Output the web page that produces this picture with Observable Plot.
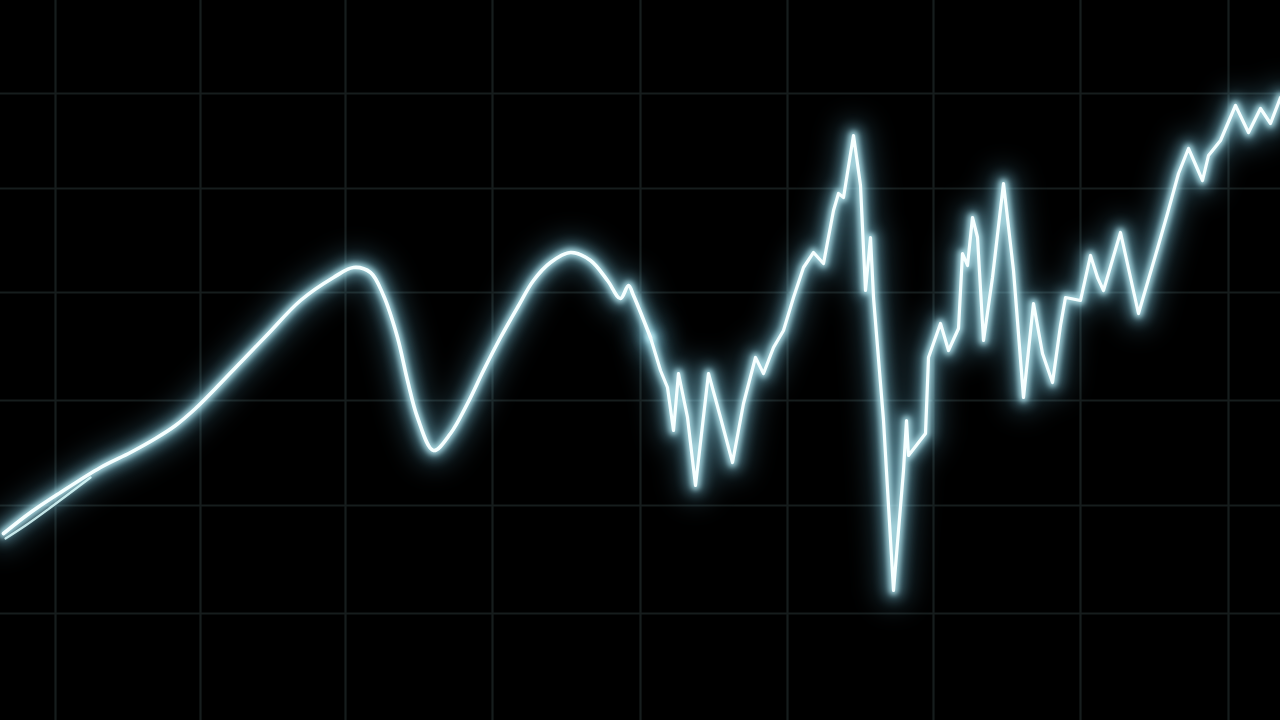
<!DOCTYPE html>
<html>
<head>
<meta charset="utf-8">
<script src="https://cdn.jsdelivr.net/npm/d3@7"></script>
<script src="https://cdn.jsdelivr.net/npm/@observablehq/plot@0.6"></script>
<style>
  html, body { margin: 0; padding: 0; background: #000; overflow: hidden; }
  #chart svg { display: block; }
</style>
</head>
<body>
<div id="chart"></div>
<script>
// Smooth early section of the trace
const smoothTime = [3, 30, 60, 100, 130, 155, 175, 195, 215, 240, 267, 300, 333, 353, 370, 383, 397, 407, 417, 433, 450, 467, 483, 500, 517, 533, 550, 570, 590, 607, 620, 628, 633, 650];
const smoothLevel = [187, 208, 228, 253, 268, 282, 295, 312, 332, 358, 386, 420, 443, 453, 448, 425, 383, 340, 303, 270, 287, 317, 350, 383, 413, 440, 458, 468, 460, 440, 422, 435, 425, 383];
// Jagged later section of the trace
const jagTime = [650, 660, 667, 673, 678, 687, 695, 708, 720, 732, 743, 755, 763, 773, 783, 793, 803, 813, 823, 833, 838, 843, 853, 860, 865, 870, 873, 883, 893, 903, 906, 908, 925, 928, 940, 948, 958, 962, 967, 972, 977, 983, 992, 1003, 1013, 1023, 1033, 1042, 1052, 1060, 1065, 1080, 1090, 1097, 1103, 1120, 1138, 1157, 1167, 1178, 1188, 1202, 1208, 1220, 1235, 1248, 1260, 1270, 1280];
const jagLevel = [383, 350, 333, 290, 347, 303, 235, 347, 303, 258, 317, 363, 347, 373, 390, 423, 453, 468, 457, 510, 527, 523, 585, 535, 430, 483, 423, 300, 130, 250, 300, 265, 287, 363, 397, 370, 392, 467, 455, 503, 483, 380, 443, 537, 450, 323, 417, 367, 338, 395, 423, 420, 465, 443, 430, 488, 407, 472, 507, 547, 572, 540, 565, 580, 615, 588, 612, 597, 623];
// Faint doubled trail at the start
const trailTime = [5, 25, 50, 90];
const trailLevel = [182, 195, 213, 243];
// Grid tick values
const xTicks = [55, 200, 345, 492, 640, 787, 933, 1080, 1228];
const yTicks = [627, 532, 428, 320, 215, 107];

const smooth = smoothTime.map((t, i) => ({t, v: smoothLevel[i]}));
const jag = jagTime.map((t, i) => ({t, v: jagLevel[i]}));
const trail = trailTime.map((t, i) => ({t, v: trailLevel[i]}));

const glow = [
  {w: 34, o: 0.2, c: "#7fdcff", blur: 12},
  {w: 18, o: 0.38, c: "#9eeaff", blur: 6},
  {w: 9,  o: 0.7, c: "#c4f6ff", blur: 2.5}
];

const layer = (d, curve, w, o, c) => Plot.line(d, {x: "t", y: "v", curve, stroke: c, strokeWidth: w, strokeOpacity: o, strokeLinejoin: "round", strokeLinecap: "round"});

const marks = [
  Plot.gridX(xTicks, {stroke: "#161d1d", strokeOpacity: 1, strokeWidth: 2.2}),
  Plot.gridY(yTicks, {stroke: "#161d1d", strokeOpacity: 1, strokeWidth: 2.2})
];
glow.forEach(g => {
  marks.push(layer(smooth, "catmull-rom", g.w, g.o, g.c));
  marks.push(layer(jag, "linear", g.w, g.o, g.c));
});
marks.push(layer(trail, "catmull-rom", 2.2, 0.85, "#dff"));
marks.push(layer(smooth, "catmull-rom", 3.6, 1, "#f6ffff"));
marks.push(layer(jag, "linear", 3.2, 1, "#f6ffff"));

const plot = Plot.plot({
  width: 1280,
  height: 720,
  margin: 0,
  x: {domain: [0, 1280], axis: null},
  y: {domain: [0, 720], axis: null},
  style: {background: "#000"},
  marks
});

document.getElementById("chart").appendChild(plot);
const lines = plot.querySelectorAll('g[aria-label="line"]');
glow.forEach((g, i) => {
  [lines[2 * i], lines[2 * i + 1]].forEach(el => { if (el) el.style.filter = `blur(${g.blur}px)`; });
});
</script>
</body>
</html>
